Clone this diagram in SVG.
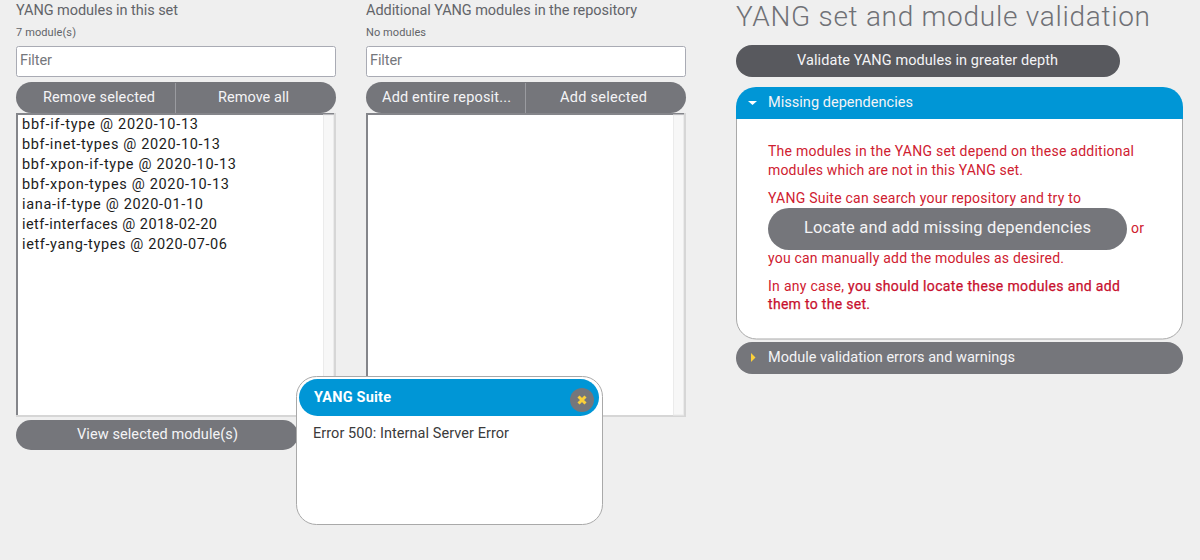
<svg xmlns="http://www.w3.org/2000/svg" width="1200" height="560" viewBox="0 0 1200 560">
<style>
text{font-family:Roboto,"Liberation Sans",sans-serif;font-size:14.500px;font-weight:400}
.h{fill:#626469}
.s{fill:#626469;font-size:11px}
.ph{fill:#75777c}
.btn{fill:#75767b}
.w{fill:#f4f4f6}
.m{fill:#1c1c1c}
.r{fill:#cf2030;font-size:14px}
.b{fill:#c8102e;stroke:#c8102e;stroke-width:.25;font-size:14px}
.input{fill:#fff;stroke:#a9abb4;stroke-width:1}
.list{fill:#fff}
.lb{fill:#d6d6d6}
.lg{fill:#84858a}
.sb{fill:#f7f7f7;stroke:#ebebeb}
</style>
<rect width="1200" height="560" fill="#efefef"/>

<g id="left-panel">
<text class="h" x="16" y="15" textLength="162">YANG modules in this set</text>
<text class="s" x="16" y="36" textLength="60">7 module(s)</text>
<rect class="input" x="16.500" y="46.500" width="319" height="30" rx="2"/>
<text class="ph" x="20" y="65" textLength="32">Filter</text>
<rect class="lb" x="16" y="113" width="320" height="304"/>
<rect class="lg" x="16" y="113" width="318" height="302"/>
<rect class="list" x="18" y="115" width="316" height="300"/>
<rect class="sb" x="323.500" y="115" width="10" height="300"/>
<rect class="btn" x="16" y="82" width="320" height="31" rx="15.500"/>
<line x1="175.500" y1="83" x2="175.500" y2="113" stroke="#9a9ba0"/>
<text class="w" x="43" y="102" textLength="112">Remove selected</text>
<text class="w" x="218" y="102" textLength="71">Remove all</text>
<text class="m" x="22" y="129" textLength="176">bbf-if-type @ 2020-10-13</text>
<text class="m" x="22" y="149" textLength="198">bbf-inet-types @ 2020-10-13</text>
<text class="m" x="22" y="169" textLength="214">bbf-xpon-if-type @ 2020-10-13</text>
<text class="m" x="22" y="189" textLength="207">bbf-xpon-types @ 2020-10-13</text>
<text class="m" x="22" y="209" textLength="181">iana-if-type @ 2020-01-10</text>
<text class="m" x="22" y="229" textLength="195">ietf-interfaces @ 2018-02-20</text>
<text class="m" x="22" y="249" textLength="205">ietf-yang-types @ 2020-07-06</text>
<rect class="btn" x="16" y="420" width="282" height="30" rx="15"/>
<text class="w" x="77" y="439" textLength="161">View selected module(s)</text>
</g>

<g id="middle-panel">
<text class="h" x="366" y="15" textLength="271">Additional YANG modules in the repository</text>
<text class="s" x="366" y="36" textLength="60">No modules</text>
<rect class="input" x="366.500" y="46.500" width="319" height="30" rx="2"/>
<text class="ph" x="370" y="65" textLength="32">Filter</text>
<rect class="lb" x="366" y="113" width="320" height="304"/>
<rect class="lg" x="366" y="113" width="318" height="302"/>
<rect class="list" x="368" y="115" width="316" height="300"/>
<rect class="sb" x="673.500" y="115" width="10" height="300"/>
<rect class="btn" x="366" y="82" width="320" height="31" rx="15.500"/>
<line x1="525.500" y1="83" x2="525.500" y2="113" stroke="#9a9ba0"/>
<text class="w" x="382" y="102" textLength="129">Add entire reposit...</text>
<text class="w" x="560" y="102" textLength="87">Add selected</text>
</g>

<g id="validation-panel">
<text x="736" y="26" fill="#6f7176" style="font-size:28px;font-weight:300" textLength="414">YANG set and module validation</text>
<rect x="736" y="45" width="384" height="32" rx="16" fill="#58595e"/>
<text class="w" x="797" y="65" textLength="261">Validate YANG modules in greater depth</text>
</g>

<g id="missing-dependencies">
<rect x="736.500" y="100" width="446" height="239" rx="20" fill="#fff" stroke="#a9a9a9"/>
<path d="M736 119V107A20 20 0 0 1 756 87H1163A20 20 0 0 1 1183 107V119Z" fill="#0096d6"/>
<path d="M748 101H757L752.500 105Z" fill="#fff"/>
<text class="w" x="768" y="107" textLength="145">Missing dependencies</text>
<text class="r" x="768" y="156" textLength="366">The modules in the YANG set depend on these additional</text>
<text class="r" x="768" y="175" textLength="255">modules which are not in this YANG set.</text>
<text class="r" x="768" y="203" textLength="313">YANG Suite can search your repository and try to</text>
<rect x="768" y="208" width="359" height="42" rx="21" fill="#75767b"/>
<text x="804" y="233" fill="#f4f4f6" style="font-size:16.500px" textLength="287">Locate and add missing dependencies</text>
<text class="r" x="1131" y="233" textLength="13">or</text>
<text class="r" x="768" y="263" textLength="296">you can manually add the modules as desired.</text>
<text class="r" x="768" y="291" textLength="76">In any case,</text>
<text class="b" x="848" y="291" textLength="272">you should locate these modules and add</text>
<text class="b" x="768" y="309" textLength="102">them to the set.</text>
</g>

<g id="module-validation-errors">
<rect x="736" y="342" width="447" height="32" rx="16" fill="#75767b"/>
<path d="M751 353V362L755.500 357.500Z" fill="#fbd03a"/>
<text class="w" x="768" y="362" textLength="247">Module validation errors and warnings</text>
</g>

<g id="error-dialog">
<rect x="296.500" y="376.500" width="306" height="148" rx="20" fill="#fff" stroke="#a9a9a9"/>
<rect x="299" y="379" width="300" height="37" rx="18.500" fill="#0096d6"/>
<text x="314" y="402" fill="#fff" style="font-weight:700" textLength="77">YANG Suite</text>
<circle cx="582" cy="400" r="12" fill="#75767b"/>
<path d="M578.500 396.500L585.500 403.500M585.500 396.500L578.500 403.500" stroke="#fbd03a" stroke-width="3"/>
<text x="313" y="438" fill="#3a3a3a" textLength="196">Error 500: Internal Server Error</text>
</g>
</svg>
